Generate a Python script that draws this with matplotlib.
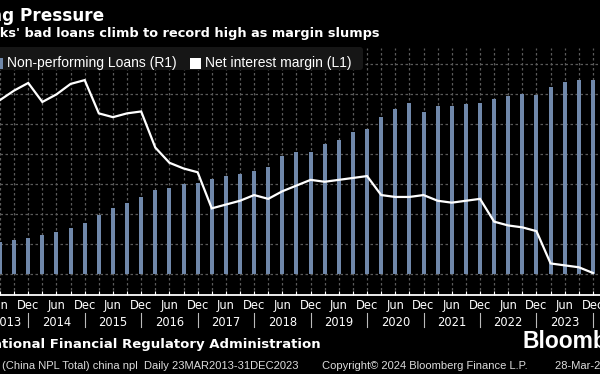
import matplotlib
matplotlib.use("Agg")
import matplotlib.pyplot as plt
import numpy as np
from matplotlib.patches import Rectangle, FancyBboxPatch
from matplotlib.transforms import IdentityTransform, blended_transform_factory

# quarter ends, Jun 2013 .. Dec 2023
quarters = ["2013-06", "2013-09", "2013-12",
            "2014-03", "2014-06", "2014-09", "2014-12",
            "2015-03", "2015-06", "2015-09", "2015-12",
            "2016-03", "2016-06", "2016-09", "2016-12",
            "2017-03", "2017-06", "2017-09", "2017-12",
            "2018-03", "2018-06", "2018-09", "2018-12",
            "2019-03", "2019-06", "2019-09", "2019-12",
            "2020-03", "2020-06", "2020-09", "2020-12",
            "2021-03", "2021-06", "2021-09", "2021-12",
            "2022-03", "2022-06", "2022-09", "2022-12",
            "2023-03", "2023-06", "2023-09", "2023-12"]

# non-performing loans, trillion yuan (R1)
npl = [0.54, 0.57, 0.60, 0.65, 0.70, 0.77, 0.85, 0.99, 1.10, 1.18, 1.29,
       1.40, 1.43, 1.50, 1.52, 1.58, 1.63, 1.67, 1.72, 1.78, 1.97,
       2.03, 2.03, 2.17, 2.23, 2.37, 2.42, 2.62, 2.75, 2.85, 2.70,
       2.80, 2.80, 2.83, 2.85, 2.92, 2.97, 3.00, 2.99, 3.12, 3.20,
       3.23, 3.23]

# net interest margin, % (L1)
nim = [2.60, 2.65, 2.69, 2.59, 2.63, 2.685, 2.705, 2.53, 2.51, 2.53, 2.54,
       2.35, 2.27, 2.24, 2.22, 2.03, 2.05, 2.07, 2.10, 2.08, 2.12,
       2.15, 2.18, 2.17, 2.18, 2.19, 2.20, 2.10, 2.09, 2.09, 2.10,
       2.07, 2.06, 2.07, 2.08, 1.96, 1.94, 1.93, 1.91, 1.74, 1.73,
       1.72, 1.69]

BAR = "#7088aa"
GRID = "#5a5a5a"
W, H = 600, 374


def fx(p):
    return p / W


def fy(p):
    return 1 - p / H


fig = plt.figure(figsize=(6, 3.74), dpi=100, facecolor="black")
ax = fig.add_axes([0, fy(295), 1, (295 - 48) / H])
ax.set_facecolor("black")

x = np.arange(len(quarters))
ax.bar(x, npl, width=0.28, color=BAR, zorder=2)
ax.set_ylim(-0.35, 3.767)
ax.set_yticks(np.arange(0, 3.51, 0.5))
ax.set_xlim(0.153, 42.5)

ax2 = ax.twinx()
ax2.plot(x, nim, color="white", lw=1.6, solid_joinstyle="miter", zorder=3)
ax2.set_ylim(1.574, 2.874)
ax2.set_yticks([])

for a in (ax, ax2):
    for s in ("top", "left", "right", "bottom"):
        a.spines[s].set_visible(False)
ax.spines["bottom"].set_visible(True)
ax.spines["bottom"].set_color("white")
ax.spines["bottom"].set_linewidth(1.3)

ax.set_axisbelow(True)
ax.grid(True, color=GRID, linestyle=(0, (2, 2)), lw=0.9)
ax.tick_params(axis="y", left=False, labelleft=False)

months = [q[5:] for q in quarters]
labels = ["Jun" if m == "06" else "Dec" if m == "12" else "" for m in months]
ax.set_xticks(x)
ax.set_xticklabels(labels)
ax.tick_params(axis="x", direction="in", length=3, color="white",
               labelcolor="white", labelsize=8.3, pad=3)

# year labels and separators under the month labels
tr = blended_transform_factory(ax.transData, ax.transAxes)
y_sep = ((295 - 313) / 247, (295 - 327) / 247)
years = sorted(set(q[:4] for q in quarters))
prev = -1.0  # series starts in March 2013
for yr in years:
    dec = quarters.index(yr + "-12")
    ax.text((prev + dec) / 2, (295 - 322) / 247, yr, transform=tr,
            color="white", fontsize=8.3, ha="center", va="center")
    ax.plot([dec, dec], y_sep, transform=tr, color="#bbbbbb", lw=0.8,
            clip_on=False)
    prev = dec

# texts whose left part is cut off by the picture edge
renderer = fig.canvas.get_renderer()


def cut_text(full, anchor, x_anchor, y, **kw):
    t1 = fig.text(0, 0, full, **kw)
    t2 = fig.text(0, 0, anchor, **kw)
    off = t1.get_window_extent(renderer).width - t2.get_window_extent(renderer).width
    t1.remove()
    t2.remove()
    fig.text(fx(x_anchor - off), fy(y), full, va="baseline", **kw)


cut_text("Mounting Pressure", "Pressure", 20.5, 21, color="white",
         fontsize=12.2, fontweight="bold")
cut_text("China banks' bad loans climb to record high as margin slumps",
         "bad loans climb to record high as margin slumps", 24.5, 37,
         color="white", fontsize=9.3, fontweight="bold")
cut_text("Source: National Financial Regulatory Administration",
         "Financial Regulatory Administration", 49.5, 348,
         color="white", fontsize=9.5, fontweight="bold")

fig.text(fx(2), fy(369), "(China NPL Total) china npl  Daily 23MAR2013-31DEC2023",
         color="#dddddd", fontsize=8, family="Liberation Sans", va="baseline")
fig.text(fx(322), fy(369), "Copyright\u00a9 2024 Bloomberg Finance L.P.",
         color="#dddddd", fontsize=8, family="Liberation Sans", va="baseline")
fig.text(fx(555), fy(369), "28-Mar-2024  10:15:01",
         color="#dddddd", fontsize=8, family="Liberation Sans", va="baseline")
fig.text(fx(522), fy(348), "Bloomberg", color="white", fontsize=16.5,
         family="Liberation Sans", fontweight="bold", va="baseline")

# legend box
ident = IdentityTransform()
fig.add_artist(FancyBboxPatch((-20, H - 70), 383, 23,
                              boxstyle="round,pad=0,rounding_size=3",
                              facecolor="#161616", edgecolor="none",
                              transform=ident))
fig.add_artist(Rectangle((-8, H - 69), 11, 11, facecolor=BAR,
                         edgecolor="none", transform=ident))
fig.add_artist(Rectangle((190, H - 69), 11, 11, facecolor="white",
                         edgecolor="none", transform=ident))
fig.text(fx(7), fy(63.5), "Non-performing Loans (R1)", color="white",
         fontsize=10, family="Liberation Sans", va="center")
fig.text(fx(205), fy(63.5), "Net interest margin (L1)", color="white",
         fontsize=10, family="Liberation Sans", va="center")

fig.savefig("out.png", dpi=100, facecolor="black")
